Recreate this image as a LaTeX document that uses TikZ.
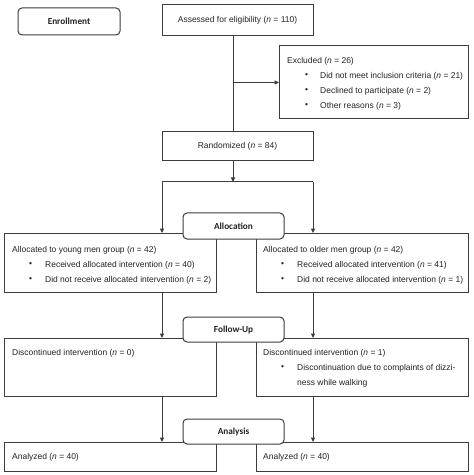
\documentclass[tikz,border=0pt]{standalone}
\usepackage{fontspec}
\setmainfont{Liberation Sans}
\newfontfamily\labfont{Carlito}
\usetikzlibrary{arrows.meta}
\definecolor{linec}{HTML}{3C3C3C}
\definecolor{txtc}{HTML}{222222}
\begin{document}
\begin{tikzpicture}[x=1bp,y=-1bp,
  box/.style={draw=linec, line width=1bp, anchor=north west, inner sep=0pt, outer sep=0pt},
  labbox/.style={box, rounded corners=4bp, fill=white, text=txtc, font=\labfont\bfseries\fontsize{9.3}{11}\selectfont},
  txt/.style={anchor=west, inner sep=0pt, text=txtc, font=\fontsize{8.5}{10}\selectfont},
  ctxt/.style={anchor=center, inner sep=0pt, text=txtc, font=\fontsize{8.5}{10}\selectfont},
  ln/.style={draw=linec, line width=1bp},
  arr/.style={ln, -{Triangle[length=4.5bp,width=4bp]}}
]
\useasboundingbox (0,0) rectangle (474,475);
\coordinate (spine) at (233,0);
\coordinate (lx) at (162,0);
\coordinate (rx) at (313,0);
\coordinate (split) at (233,182);

% boxes
\node[box, minimum width=151bp, minimum height=31bp] (assess) at (162,5) {};
\node[ctxt] (assesst) at (assess.center) {Assessed for eligibility (\textit{n} = 110)};
\node[box, minimum width=189bp, minimum height=73bp] (excl) at (279,46) {};
\node[box, minimum width=151bp, minimum height=29bp] (rand) at (162,132) {};
\node[ctxt] (randt) at (rand.center) {Randomized (\textit{n} = 84)};
\node[box, minimum width=212bp, minimum height=59bp] (young) at (4,233) {};
\node[box, minimum width=212bp, minimum height=59bp] (older) at (256,233) {};
\node[box, minimum width=212bp, minimum height=58bp] (discL) at (4,338) {};
\node[box, minimum width=212bp, minimum height=58bp] (discR) at (256,338) {};
\node[box, minimum width=212bp, minimum height=29bp] (anaL) at (4,442) {};
\node[box, minimum width=212bp, minimum height=29bp] (anaR) at (256,442) {};

% texts
\node[txt] (ex0) at (287,61) {Excluded (\textit{n} = 26)};
\node[txt] (ex1b) at (305,76) {•};
\node[txt] (ex1) at (320,76) {Did not meet inclusion criteria (\textit{n} = 21)};
\node[txt] (ex2b) at (305,91) {•};
\node[txt] (ex2) at (320,91) {Declined to participate (\textit{n} = 2)};
\node[txt] (ex3b) at (305,106) {•};
\node[txt] (ex3) at (320,106) {Other reasons (\textit{n} = 3)};

\node[txt] (y0) at (12,250) {Allocated to young men group (\textit{n} = 42)};
\node[txt] (y1b) at (29,265) {•};
\node[txt] (y1) at (45,265) {Received allocated intervention (\textit{n} = 40)};
\node[txt] (y2b) at (29,280) {•};
\node[txt] (y2) at (45,280) {Did not receive allocated intervention (\textit{n} = 2)};

\node[txt] (o0) at (263,250) {Allocated to older men group (\textit{n} = 42)};
\node[txt] (o1b) at (281,265) {•};
\node[txt] (o1) at (297,265) {Received allocated intervention (\textit{n} = 41)};
\node[txt] (o2b) at (281,280) {•};
\node[txt] (o2) at (297,280) {Did not receive allocated intervention (\textit{n} = 1)};

\node[txt] (dl0) at (12,353) {Discontinued intervention (\textit{n} = 0)};
\node[txt] (dr0) at (263,353) {Discontinued intervention (\textit{n} = 1)};
\node[txt] (dr1b) at (281,368) {•};
\node[txt] (dr1) at (297,368) {Discontinuation due to complaints of dizzi-};
\node[txt] (dr2) at (297,383) {ness while walking};

\node[txt] (al0) at (12,457) {Analyzed (\textit{n} = 40)};
\node[txt] (ar0) at (263,457) {Analyzed (\textit{n} = 40)};

% connectors
\draw[ln] (spine |- assess.south) -- (spine |- rand.north);
\draw[arr] (spine |- excl.west) -- (excl.west);
\draw[arr] (spine |- rand.south) -- (split);
\draw[ln] (lx |- split) -- (rx |- split);
\draw[arr] (lx |- split) -- (lx |- young.north);
\draw[arr] (rx |- split) -- (rx |- older.north);
\draw[arr] (lx |- young.south) -- (lx |- discL.north);
\draw[arr] (rx |- older.south) -- (rx |- discR.north);
\draw[arr] (lx |- discL.south) -- (lx |- anaL.north);
\draw[arr] (rx |- discR.south) -- (rx |- anaR.north);

% stage labels
\node[labbox, minimum width=102bp, minimum height=27bp] (enrol) at (18,8) {Enrollment};
\node[labbox, minimum width=101bp, minimum height=26bp] (alloc) at (183,213) {Allocation};
\node[labbox, minimum width=101bp, minimum height=25bp] (follow) at (183,317) {Follow-Up};
\node[labbox, minimum width=101bp, minimum height=25bp] (analysis) at (183,419) {Analysis};
\end{tikzpicture}
\end{document}
